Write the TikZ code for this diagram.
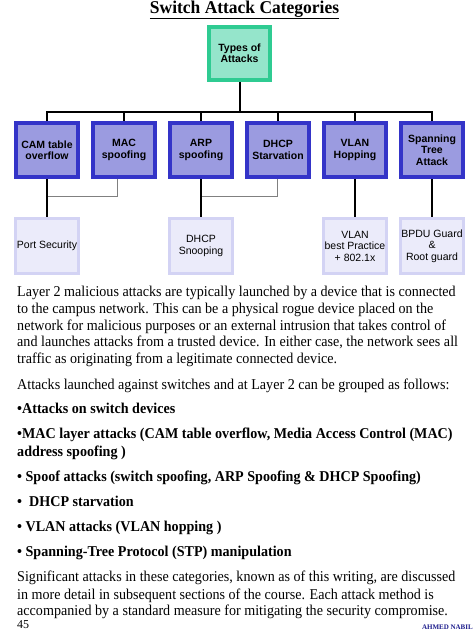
\documentclass[tikz,border=0pt]{standalone}
\usepackage{graphicx}
\usepackage{fontspec}
\setmainfont{Liberation Serif}
\newfontfamily\arialfont{Liberation Sans}
\usetikzlibrary{calc}
\definecolor{topfill}{HTML}{95E5CB}
\definecolor{topborder}{HTML}{2FCB92}
\definecolor{attfill}{HTML}{9B9BE0}
\definecolor{attborder}{HTML}{3434C8}
\definecolor{deffill}{HTML}{EBEBFA}
\definecolor{defborder}{HTML}{D3D3F4}
\definecolor{signcol}{HTML}{1C1C8C}
\newcommand\bodyline[1]{\scalebox{0.94}[1]{#1}}
\begin{document}
\begin{tikzpicture}[x=1pt,y=-1pt,
  topbox/.style={draw=topborder, fill=topfill, line width=4pt, minimum width=61pt, minimum height=53pt, inner sep=0pt, align=center, font=\arialfont\bfseries\fontsize{10.5}{11.3}\selectfont},
  attbox/.style={draw=attborder, fill=attfill, line width=4pt, minimum width=62pt, minimum height=54pt, inner sep=0pt, align=center, font=\arialfont\bfseries\fontsize{10.5}{11.3}\selectfont},
  defbox/.style={draw=defborder, fill=deffill, line width=3pt, minimum width=63pt, minimum height=55pt, inner sep=0pt, align=center, font=\arialfont\fontsize{10.5}{11.5}\selectfont},
  tline/.style={line width=2pt, black},
  gline/.style={line width=1pt, gray},
  body/.style={anchor=base west, inner sep=0pt, font=\fontsize{15}{16}\selectfont},
  bodyb/.style={body, font=\fontsize{15}{16}\selectfont\bfseries}
]
\useasboundingbox (0,0) rectangle (474,632);
\fill[white] (0,0) rectangle (474,632);

% title
\node[anchor=base, inner sep=0pt, font=\fontsize{18}{20}\selectfont\bfseries] (title) at (244.5,13.3)
  {\scalebox{0.97}[1]{\underline{Switch Attack Categories}}};

% boxes
\node[topbox] (top) at (239.5,53.5) {Types of\\Attacks};
\node[attbox] (cam)  at (47,150)  {CAM table\\overflow};
\node[attbox] (mac)  at (124,150) {MAC\\spoofing};
\node[attbox] (arp)  at (201,150) {ARP\\spoofing};
\node[attbox] (dhcp) at (278,150) {DHCP\\Starvation};
\node[attbox] (vlan) at (355,150) {VLAN\\Hopping};
\node[attbox] (stp)  at (432,150) {Spanning\\Tree\\Attack};

\node[defbox] (port)  at (47,246)  {Port Security};
\node[defbox] (snoop) at (201,246) {DHCP\\Snooping};
\node[defbox] (vbp)   at (355,246) {VLAN\\best Practice\\+ 802.1x};
\node[defbox] (bpdu)  at (432,246) {BPDU Guard\\\&\\Root guard};

% tree connectors
\coordinate (bus) at (239.5,112);
\draw[tline] (top.south) -- (bus);
\draw[tline] (cam.north) |- (bus) -| (stp.north);
\foreach \n in {mac,arp,dhcp,vlan}
  \draw[tline] (\n.north) -- (\n.north |- bus);

\draw[tline] (cam.south) -- (port.north);
\draw[tline] (arp.south) -- (snoop.north);
\draw[tline] (vlan.south) -- (vbp.north);
\draw[tline] (stp.south) -- (bpdu.north);

\coordinate (camj) at (48,196);
\coordinate (arpj) at (202,196);
\draw[gline] ($(mac.south)+(-7,0)$) |- (camj);
\draw[gline] ($(dhcp.south)+(-1,0)$) |- (arpj);

% body text
\node[body] (p1) at (17,296.7) {\bodyline{Layer 2 malicious attacks are typically launched by a device that is connected}};
\node[body] (p2) at (17,313.3) {\bodyline{to the campus network. This can be a physical rogue device placed on the}};
\node[body] (p3) at (17,330) {\bodyline{network for malicious purposes or an external intrusion that takes control of}};
\node[body] (p4) at (17,346.7) {\bodyline{and launches attacks from a trusted device. In either case, the network sees all}};
\node[body] (p5) at (17,363.3) {\bodyline{traffic as originating from a legitimate connected device.}};
\node[body] (q1) at (17,389.3) {\bodyline{Attacks launched against switches and at Layer 2 can be grouped as follows:}};
\node[bodyb] (b1) at (17,413.3) {\bodyline{•Attacks on switch devices}};
\node[bodyb] (b2) at (17,438.3) {\bodyline{•MAC layer attacks (CAM table overflow, Media Access Control (MAC)}};
\node[bodyb] (b2b) at (17,456) {\bodyline{address spoofing )}};
\node[bodyb] (b3) at (17,481) {\bodyline{• Spoof attacks (switch spoofing, ARP Spoofing \& DHCP Spoofing)}};
\node[bodyb] (b4) at (17,506) {\bodyline{•\ \ DHCP starvation}};
\node[bodyb] (b5) at (17,531.7) {\bodyline{• VLAN attacks (VLAN hopping )}};
\node[bodyb] (b6) at (17,556.7) {\bodyline{• Spanning-Tree Protocol (STP) manipulation}};
\node[body] (s1) at (17,581.7) {\bodyline{Significant attacks in these categories, known as of this writing, are discussed}};
\node[body] (s2) at (17,599) {\bodyline{in more detail in subsequent sections of the course. Each attack method is}};
\node[body] (s3) at (17,615.5) {\bodyline{accompanied by a standard measure for mitigating the security compromise.}};

\node[anchor=base west, inner sep=0pt, font=\fontsize{12}{13}\selectfont] (pg) at (17,628) {45};
\node[anchor=base east, inner sep=0pt, text=signcol, font=\fontsize{7}{8}\selectfont\bfseries] (sig) at (473,629) {AHMED NABIL};
\end{tikzpicture}
\end{document}
